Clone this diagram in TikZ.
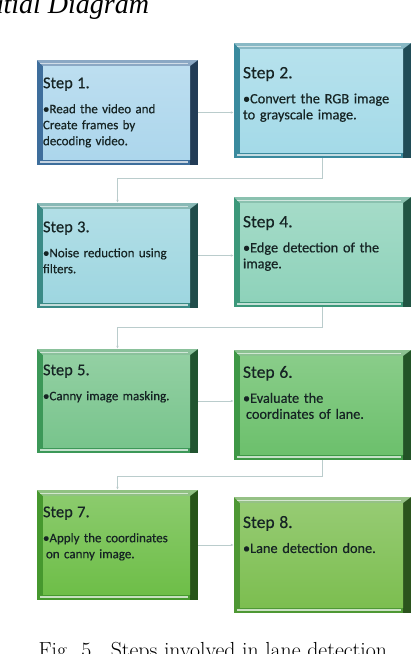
\documentclass[tikz,border=0pt]{standalone}
\usepackage{fontspec}
\newfontfamily\boxfont{Carlito}[FakeBold=0.5]
\newfontfamily\capfont{Liberation Serif}
\usetikzlibrary{arrows.meta}

\definecolor{faceA}{RGB}{172,214,236}
\definecolor{frameA}{RGB}{62,110,156}
\definecolor{faceB}{RGB}{164,218,232}
\definecolor{frameB}{RGB}{58,138,158}
\definecolor{faceC}{RGB}{158,214,224}
\definecolor{frameC}{RGB}{58,138,134}
\definecolor{faceD}{RGB}{142,210,186}
\definecolor{frameD}{RGB}{60,152,122}
\definecolor{faceE}{RGB}{120,196,140}
\definecolor{frameE}{RGB}{60,152,88}
\definecolor{faceF}{RGB}{108,192,108}
\definecolor{frameF}{RGB}{62,152,70}
\definecolor{faceG}{RGB}{110,190,72}
\definecolor{frameG}{RGB}{70,152,46}
\definecolor{faceH}{RGB}{124,190,80}
\definecolor{frameH}{RGB}{78,152,52}
\definecolor{linkgray}{RGB}{186,204,204}
\definecolor{inkgray}{RGB}{22,36,36}

\newcommand{\stephead}[1]{{\fontsize{\headsz}{18}\selectfont #1}\\[9pt]}

\tikzset{
    stepbox/.style 2 args={
        fill=#2,
        path picture={
            \fill[#2!55!black] ([xshift=-8pt]path picture bounding box.north east) rectangle (path picture bounding box.south east);
            \fill[#2!60!white] (path picture bounding box.north west) -- (path picture bounding box.north east)
                -- ([shift={(-8pt,-6pt)}]path picture bounding box.north east) -- ([shift={(6pt,-6pt)}]path picture bounding box.north west) -- cycle;
            \shade[top color=#1!80!white, bottom color=#1] ([shift={(6pt,6pt)}]path picture bounding box.south west) rectangle ([shift={(-8pt,-6pt)}]path picture bounding box.north east);
            \draw[white, opacity=.7, line width=1.2pt] ([shift={(3pt,3pt)}]path picture bounding box.south west) -- ([shift={(-10pt,3pt)}]path picture bounding box.south east);
            \draw[white, opacity=.6, line width=1pt] ([shift={(3pt,-3pt)}]path picture bounding box.north west) -- ([shift={(-10pt,-3pt)}]path picture bounding box.north east);
        }
    },
    steptext/.style={anchor=north west, inner sep=0pt, text width=160pt, align=left,
        text=inkgray, font=\boxfont\fontsize{13}{16}\selectfont\def\headsz{16.5}},
    steptextwide/.style={steptext, text width=170pt,
        font=\boxfont\fontsize{14.3}{16}\selectfont\def\headsz{17.5}},
    link/.style={draw=linkgray, line width=0.6pt, -{Latex[length=3pt,width=2.5pt]}},
}

\begin{document}
\begin{tikzpicture}[x=1pt, y=-1pt]
    \useasboundingbox (0, 0) rectangle (420, 654);
    \clip (0, 0) rectangle (420, 654);
    \fill[white] (0, 0) rectangle (420, 654);

    \node[anchor=base west, font=\capfont\fontsize{28}{30}\selectfont\itshape] (title) at (-14, 13.5) {atial Diagram};

    \node[stepbox={faceA}{frameA}, minimum width=161pt, minimum height=105pt] (s1) at (117.5, 112.5) {};
    \node[stepbox={faceB}{frameB}, minimum width=177pt, minimum height=115pt] (s2) at (322.5, 100.5) {};
    \node[stepbox={faceC}{frameC}, minimum width=161pt, minimum height=105pt] (s3) at (117.5, 255.5) {};
    \node[stepbox={faceD}{frameD}, minimum width=177pt, minimum height=110pt] (s4) at (322.5, 252) {};
    \node[stepbox={faceE}{frameE}, minimum width=161pt, minimum height=104pt] (s5) at (117.5, 401) {};
    \node[stepbox={faceF}{frameF}, minimum width=177pt, minimum height=110pt] (s6) at (322.5, 405) {};
    \node[stepbox={faceG}{frameG}, minimum width=161pt, minimum height=110pt] (s7) at (117.5, 545) {};
    \node[stepbox={faceH}{frameH}, minimum width=177pt, minimum height=116pt] (s8) at (322.5, 555) {};

    \node[steptext] (t1) at ([shift={(6pt,-17.5pt)}]s1.north west)
        {\stephead{Step 1.}\textbullet Read the video and\\ Create frames by\\ decoding video.};
    \node[steptextwide] (t2) at ([shift={(9pt,-24pt)}]s2.north west)
        {\stephead{Step 2.}\textbullet Convert the RGB image\\ to grayscale image.};
    \node[steptext] (t3) at ([shift={(6pt,-18.5pt)}]s3.north west)
        {\stephead{Step 3.}\textbullet Noise reduction using\\ filters.};
    \node[steptextwide] (t4) at ([shift={(9pt,-19pt)}]s4.north west)
        {\stephead{Step 4.}\textbullet Edge detection of the\\ image.};
    \node[steptext] (t5) at ([shift={(6pt,-15.5pt)}]s5.north west)
        {\stephead{Step 5.}\textbullet Canny image masking.};
    \node[steptextwide] (t6) at ([shift={(9pt,-16pt)}]s6.north west)
        {\stephead{Step 6.}\textbullet Evaluate the\\ \hspace*{3pt}coordinates of lane.};
    \node[steptext] (t7) at ([shift={(6pt,-16.5pt)}]s7.north west)
        {\stephead{Step 7.}\textbullet Apply the coordinates\\ \hspace*{3pt}on canny image.};
    \node[steptextwide] (t8) at ([shift={(9pt,-19pt)}]s8.north west)
        {\stephead{Step 8.}\textbullet Lane detection done.};

    \draw[link] (s1.east) -- (s1.east -| s2.west);
    \draw[link] (s2.south) -- ++(0, 20) -| (s3.north);
    \draw[link] (s3.east) -- (s3.east -| s4.west);
    \draw[link] (s4.south) -- ++(0, 20) -| (s5.north);
    \draw[link] (s5.east) -- (s5.east -| s6.west);
    \draw[link] (s6.south) -- ++(0, 16) -| (s7.north);
    \draw[link] (s7.east) -- (s7.east -| s8.west);

    \node[anchor=base west, font=\fontsize{21.8}{24}\selectfont] (caption) at (35, 657) {Fig. 5.\hspace{14pt}Steps involved in lane detection};
\end{tikzpicture}
\end{document}
